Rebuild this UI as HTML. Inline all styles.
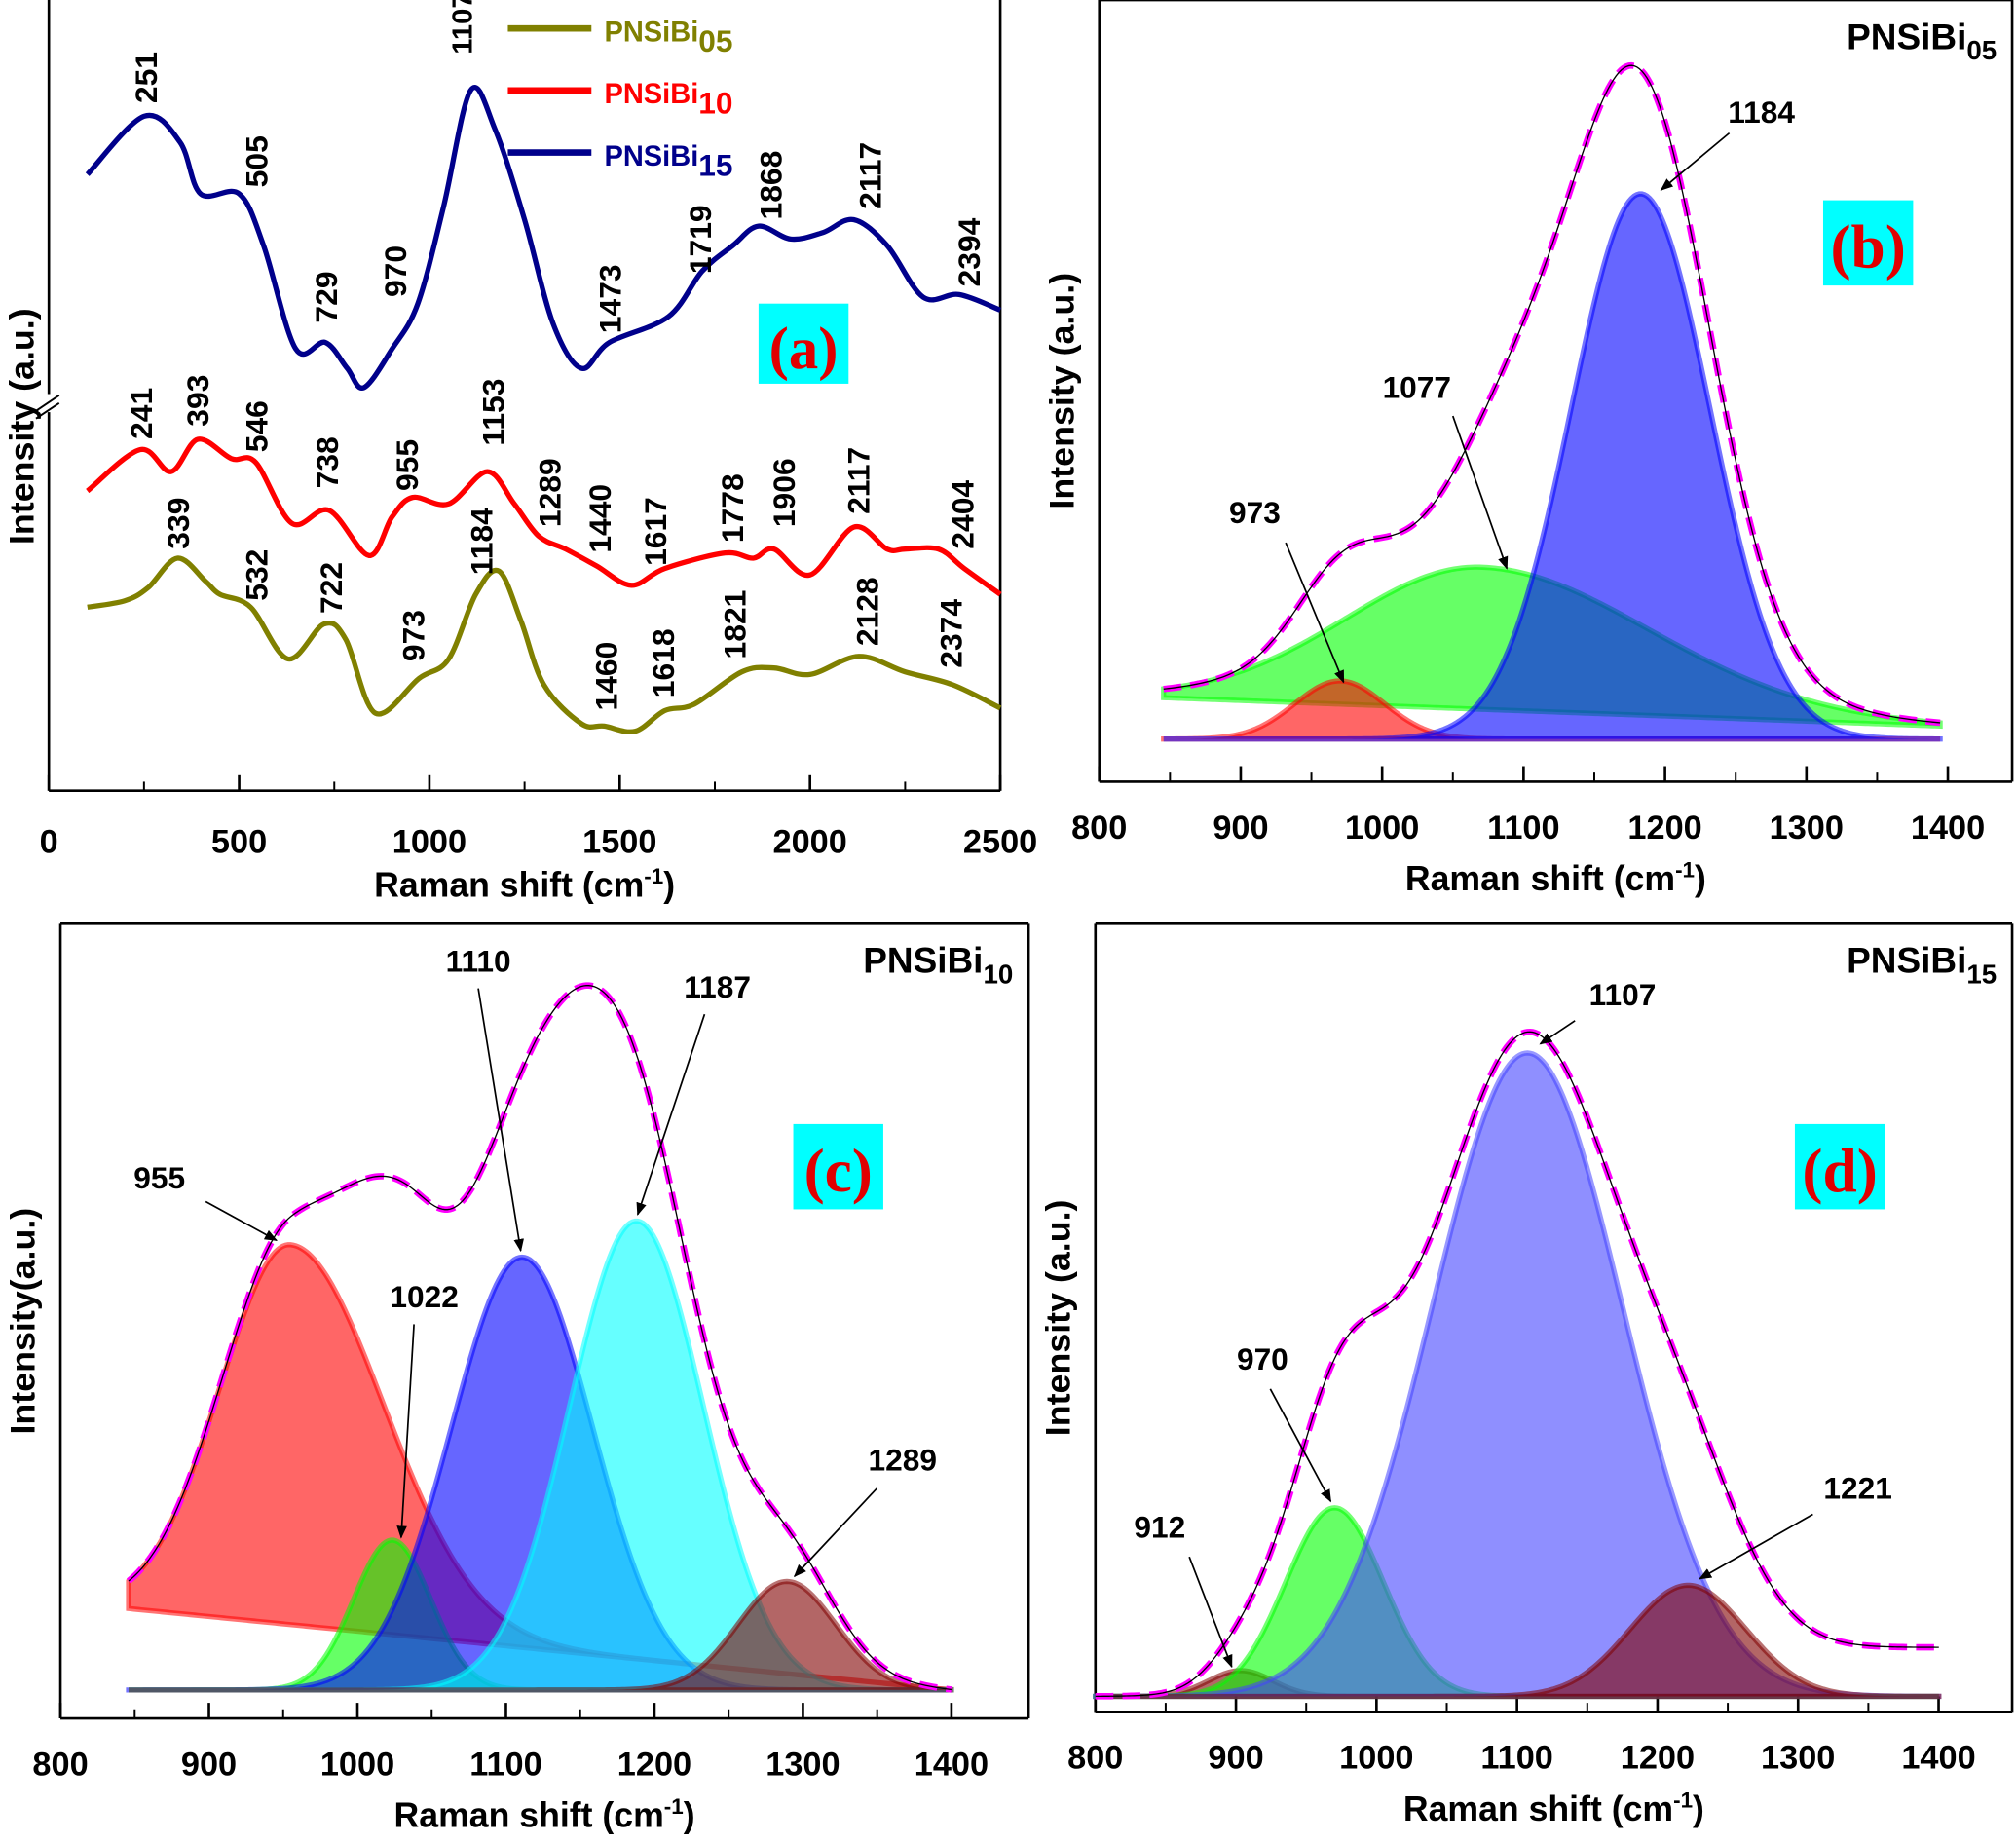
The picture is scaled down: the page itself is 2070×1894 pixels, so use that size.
<!DOCTYPE html>
<html><head><meta charset="utf-8"><style>
html,body{margin:0;padding:0;background:#fff}
svg{display:block}
text{font-family:"Liberation Sans",Arial,sans-serif;font-weight:bold;fill:#000}
</style></head><body>
<svg id="s" width="2070" height="1894" viewBox="0 0 1568 1428" preserveAspectRatio="none" xmlns="http://www.w3.org/2000/svg">
<defs><marker id="ar" markerWidth="10" markerHeight="10" refX="9" refY="5" orient="auto" markerUnits="userSpaceOnUse"><path d="M0,1 L10,5 L0,9 z" fill="#000"/></marker></defs>
<g id="g"></g>
</svg>
<script>
const G=document.getElementById('g');let h='';
function add(s){h+=s;}
function T(x,y,t,sz,anc,rot,col){add(`<text x="${x}" y="${y}" font-size="${sz||26}" text-anchor="${anc||'middle'}"${rot?` transform="rotate(-90 ${x} ${y})"`:''}${col?` style="fill:${col}"`:''}>${t}</text>`);}
function L(x1,y1,x2,y2,w,c){add(`<line x1="${x1}" y1="${y1}" x2="${x2}" y2="${y2}" stroke="${c||'#000'}" stroke-width="${w||2}"/>`);}
function spline(pts){let d=`M${pts[0][0]},${pts[0][1]}`;for(let i=0;i<pts.length-1;i++){const p0=pts[Math.max(0,i-1)],p1=pts[i],p2=pts[i+1],p3=pts[Math.min(pts.length-1,i+2)];const c1=[p1[0]+(p2[0]-p0[0])/6,p1[1]+(p2[1]-p0[1])/6],c2=[p2[0]-(p3[0]-p1[0])/6,p2[1]-(p3[1]-p1[1])/6];d+=` C${c1[0]},${c1[1]} ${c2[0]},${c2[1]} ${p2[0]},${p2[1]}`;}return d;}
function arrow(x1,y1,x2,y2){add(`<line x1="${x1}" y1="${y1}" x2="${x2}" y2="${y2}" stroke="#000" stroke-width="1.3" marker-end="url(#ar)"/>`);}
const gs=(x,c,h,s)=>h*Math.exp(-((x-c)**2)/(2*s*s));
// ---------- Panel a
L(38,0,38,612,2);L(778,0,778,612,2);L(38,612,778,612,2);
[0,500,1000,1500,2000,2500].forEach((v,i)=>{const x=38+i*148;L(x,612,x,600,2);T(x,660,v,26);});
for(let i=0;i<5;i++){const x=38+74+i*148;L(x,612,x,605,1.5);}
T(408,694,'Raman shift (cm<tspan font-size="17" dy="-10">-1</tspan><tspan dy="10">)</tspan>',27);
T(26,330,'Intensity (a.u.)',27,'middle',1);
add('<rect x="30" y="305" width="16" height="14" fill="#fff"/>');L(28,318,46,306,1.5);L(28,324,46,312,1.5);
const blue=[[68,135],[112,90],[140,110],[156,150],[186,150],[205,190],[230,270],[253,265],[270,285],[283,300],[305,270],[325,235],[345,160],[366,70],[385,100],[408,170],[430,250],[452,285],[474,265],[520,245],[546,210],[570,190],[590,175],[615,185],[640,180],[664,170],[690,190],[718,230],[746,228],[778,240]];
const red=[[68,380],[109,348],[133,365],[154,340],[180,355],[199,358],[227,405],[256,395],[287,430],[305,400],[321,385],[349,390],[379,365],[400,390],[419,415],[440,425],[464,438],[491,453],[517,440],[564,428],[586,432],[602,425],[630,445],[664,408],[690,425],[704,425],[730,425],[750,440],[778,460]];
const ol=[[68,470],[97,465],[115,455],[138,432],[160,450],[171,460],[195,470],[224,510],[252,483],[269,495],[292,552],[326,525],[349,510],[370,460],[388,442],[405,480],[423,530],[452,560],[470,562],[494,566],[517,550],[540,545],[577,520],[602,517],[630,522],[668,508],[704,520],[741,530],[778,548]];
add(`<path d="${spline(blue)}" fill="none" stroke="#00008b" stroke-width="4"/>`);
add(`<path d="${spline(red)}" fill="none" stroke="#ff0000" stroke-width="4"/>`);
add(`<path d="${spline(ol)}" fill="none" stroke="#808000" stroke-width="4"/>`);
[[122,251,80],[208,505,145],[262,729,250],[316,970,230],[483,1473,258],[553,1719,212],[608,1868,170],[685,2117,162],[762,2394,222],
[118,241,340],[162,393,330],[208,546,350],[263,738,378],[325,955,380],[392,1153,345],[436,1289,408],[475,1440,428],[518,1617,438],[578,1778,420],[618,1906,408],[676,2117,398],[757,2404,425],
[147,339,425],[208,532,465],[266,722,475],[330,973,512],[383,1184,445],[480,1460,550],[524,1618,540],[580,1821,510],[683,2128,500],[748,2374,517]].forEach(a=>T(a[0],a[2],a[1],24,'start',1));
T(367,42,'1107',22,'start',1);
L(395,22,460,22,5,'#808000');T(470,32,'PNSiBi<tspan font-size="24" dy="8">05</tspan>',22,'start',0,'#808000');
L(395,70,460,70,5,'#ff0000');T(470,80,'PNSiBi<tspan font-size="24" dy="8">10</tspan>',22,'start',0,'#ff0000');
L(395,118,460,118,5,'#00008b');T(470,128,'PNSiBi<tspan font-size="24" dy="8">15</tspan>',22,'start',0,'#00008b');
add('<rect x="590" y="235" width="70" height="62" fill="#00ffff"/>');add('<text x="625" y="285" font-size="46" text-anchor="middle" style="font-family:Liberation Serif,serif;fill:#e00000">(a)</text>');
// ---------- fitting panels
function panel(o){
 const {x0,x1,y0,y1,px0,pxPer,comps,base,env,lab,title,tl,labx,laby,ylab}=o;
 L(x0,y0,x0,y1,2);L(x1,y0,x1,y1,2);L(x0,y1,x1,y1,2);L(x0,y0,x1,y0,2);
 for(let v=800;v<=1400;v+=100){const x=px0+(v-800)*pxPer;L(x,y1,x,y1-12,2);T(x,y1+44,v,26);const xm=x+50*pxPer;if(v<1400)L(xm,y1,xm,y1-7,1.5);}
 T((x0+x1)/2,y1+84,'Raman shift (cm<tspan font-size="17" dy="-10">-1</tspan><tspan dy="10">)</tspan>',27);
 T(x0-20,(y0+y1)/2,ylab,27,'middle',1);
 const xs=[];for(let x=o.xa;x<=o.xb;x+=2)xs.push(x);
 const g=(x,c)=>{const s=(x<c.c&&c.sl)?c.sl:c.s;return c.h*Math.exp(-((x-c.c)**2)/(2*s*s));};
 comps.forEach(c=>{
  const bl=x=>c.bl?c.bl(x):base;
  const top=xs.map(x=>[x,bl(x)-g(x,c)]);
  let d='M'+top.map(p=>p.join(',')).join(' L');
  d+=' L'+xs.slice().reverse().map(x=>x+','+bl(x)).join(' L')+' Z';
  add(`<path d="${d}" fill="${c.col}" fill-opacity="0.6" stroke="${c.col}" stroke-opacity="0.55" stroke-width="4"/>`);
 });
 const e=xs.map(x=>{let s=0;comps.forEach(c=>{s+=g(x,c)+(c.bl?base-c.bl(x):0)});return [x,base-s-env(x)];});
 const ed='M'+e.map(p=>p.join(',')).join(' L');
 add(`<path d="${ed}" fill="none" stroke="#ff00ff" stroke-width="5" stroke-dasharray="14,7"/>`);
 add(`<path d="${ed}" fill="none" stroke="#000" stroke-width="1"/>`);
 add(`<rect x="${labx}" y="${laby}" width="70" height="66" fill="#00ffff"/>`);
 add(`<text x="${labx+35}" y="${laby+52}" font-size="48" text-anchor="middle" style="font-family:Liberation Serif,serif;fill:#e00000">${lab}</text>`);
 T(x1-12,y0+38,title+'<tspan font-size="21" dy="8">'+tl+'</tspan>',28,'end');
}
// b
panel({x0:855,x1:1565,y0:0,y1:605,px0:855,pxPer:1.1,xa:905,xb:1510,base:572,ylab:'Intensity (a.u.)',lab:'(b)',title:'PNSiBi',tl:'05',labx:1418,laby:155,
 comps:[{c:1152,h:110,s:130,sl:105,col:'#00ff00',bl:x=>540+(x-905)*22/605},{c:1042,h:45,s:35,col:'#ff0000'},{c:1276,h:422,s:54,col:'#0000ff'}],
 env:x=>gs(x,1175,95,45)-gs(x,1000,5,40)+gs(x,1060,10,50)});
T(1102,308,'1077',24);arrow(1130,322,1172,440);T(976,405,'973',24);arrow(1000,420,1045,528);T(1370,95,'1184',24);arrow(1345,103,1292,147);
// c
panel({x0:47,x1:800,y0:715,y1:1330,px0:47,pxPer:1.155,xa:100,xb:740,base:1308,ylab:'Intensity(a.u.)',lab:'(c)',title:'PNSiBi',tl:'10',labx:617,laby:870,
 comps:[{c:226,h:294,s:72,sl:55,col:'#ff0000',bl:x=>1245+(x-100)*63/640},{c:305,h:116,s:30,col:'#00ff00'},{c:406,h:335,s:55,col:'#0000ff'},{c:495,h:363,s:52,col:'#00ffff'},{c:612,h:84,s:38,col:'#800000'}],
 env:x=>gs(x,262,28,35)+gs(x,335,22,28)+gs(x,450,20,50)-gs(x,300,12,20)});
T(124,920,'955',24);arrow(160,930,215,960);T(330,1012,'1022',24);arrow(322,1025,312,1190);T(372,752,'1110',24);arrow(372,765,405,968);T(558,772,'1187',24);arrow(548,785,496,940);T(702,1138,'1289',24);arrow(682,1152,618,1220);
// d
panel({x0:852,x1:1565,y0:715,y1:1325,px0:852,pxPer:1.093,xa:852,xb:1508,base:1313,ylab:'Intensity (a.u.)',lab:'(d)',title:'PNSiBi',tl:'15',labx:1396,laby:870,
 comps:[{c:965,h:20,s:25,col:'#800000'},{c:1038,h:146,s:38,col:'#00ff00'},{c:1188,h:498,s:74,col:'#4444ff'},{c:1313,h:86,s:45,col:'#800000'}],
 env:x=>38/(1+Math.exp(-(x-1230)/45))+gs(x,1060,55,55)});
T(902,1190,'912',24);arrow(925,1205,958,1290);T(982,1060,'970',24);arrow(988,1075,1035,1162);T(1262,778,'1107',24);arrow(1225,790,1198,808);T(1445,1160,'1221',24);arrow(1410,1172,1322,1222);
G.innerHTML=h;
</script>
</body></html>
